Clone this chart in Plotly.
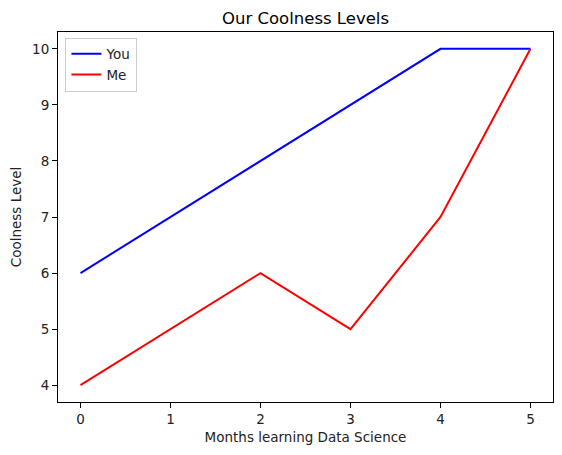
import plotly.graph_objects as go

# Months of learning and coolness scores
months = [0, 1, 2, 3, 4, 5]
you_levels = [6, 7, 8, 9, 10, 10]
me_levels = [4, 5, 6, 5, 7, 10]

font_family = "DejaVu Sans"

# the page body adds an 8px margin, so the figure is a bit smaller
fig_w, fig_h = 554, 447

fig = go.Figure()
fig.add_trace(go.Scatter(x=months, y=you_levels, mode="lines", name="You",
                         line=dict(color="blue", width=2)))
fig.add_trace(go.Scatter(x=months, y=me_levels, mode="lines", name="Me",
                         line=dict(color="red", width=2)))

axis_style = dict(
    showgrid=False, zeroline=False, automargin=False,
    showline=True, linecolor="black", linewidth=1.1, mirror=True,
    ticks="outside", ticklen=5, tickwidth=1.1, tickcolor="black",
    tickfont=dict(family=font_family, size=13.5, color="#222222"),
)

fig.update_layout(
    width=fig_w, height=fig_h,
    margin=dict(l=50, r=9, t=24, b=53, autoexpand=False),
    plot_bgcolor="white", paper_bgcolor="white",
    font=dict(family=font_family, color="#222222"),
    title=dict(text="Our Coolness Levels", x=0.5, xref="paper", xanchor="center",
               y=1 - 10 / fig_h, yref="container", yanchor="middle", automargin=False,
               font=dict(family=font_family, size=16.5, color="black")),
    xaxis=dict(range=[-0.25, 5.25], tickvals=months,
               title=dict(text="Months learning Data Science", standoff=6,
                          font=dict(family=font_family, size=13.5)),
               **axis_style),
    yaxis=dict(range=[3.7, 10.3], tickvals=[4, 5, 6, 7, 8, 9, 10],
               title=dict(text="Coolness Level", standoff=8,
                          font=dict(family=font_family, size=13.5)),
               **axis_style),
    legend=dict(x=0.015, y=0.985, xanchor="left", yanchor="top",
                bgcolor="rgba(255,255,255,0.8)", bordercolor="#cccccc", borderwidth=1,
                font=dict(family=font_family, size=13.5, color="#222222"),
                itemwidth=30, tracegroupgap=0),
    showlegend=True,
)

fig.write_html("out.html")
